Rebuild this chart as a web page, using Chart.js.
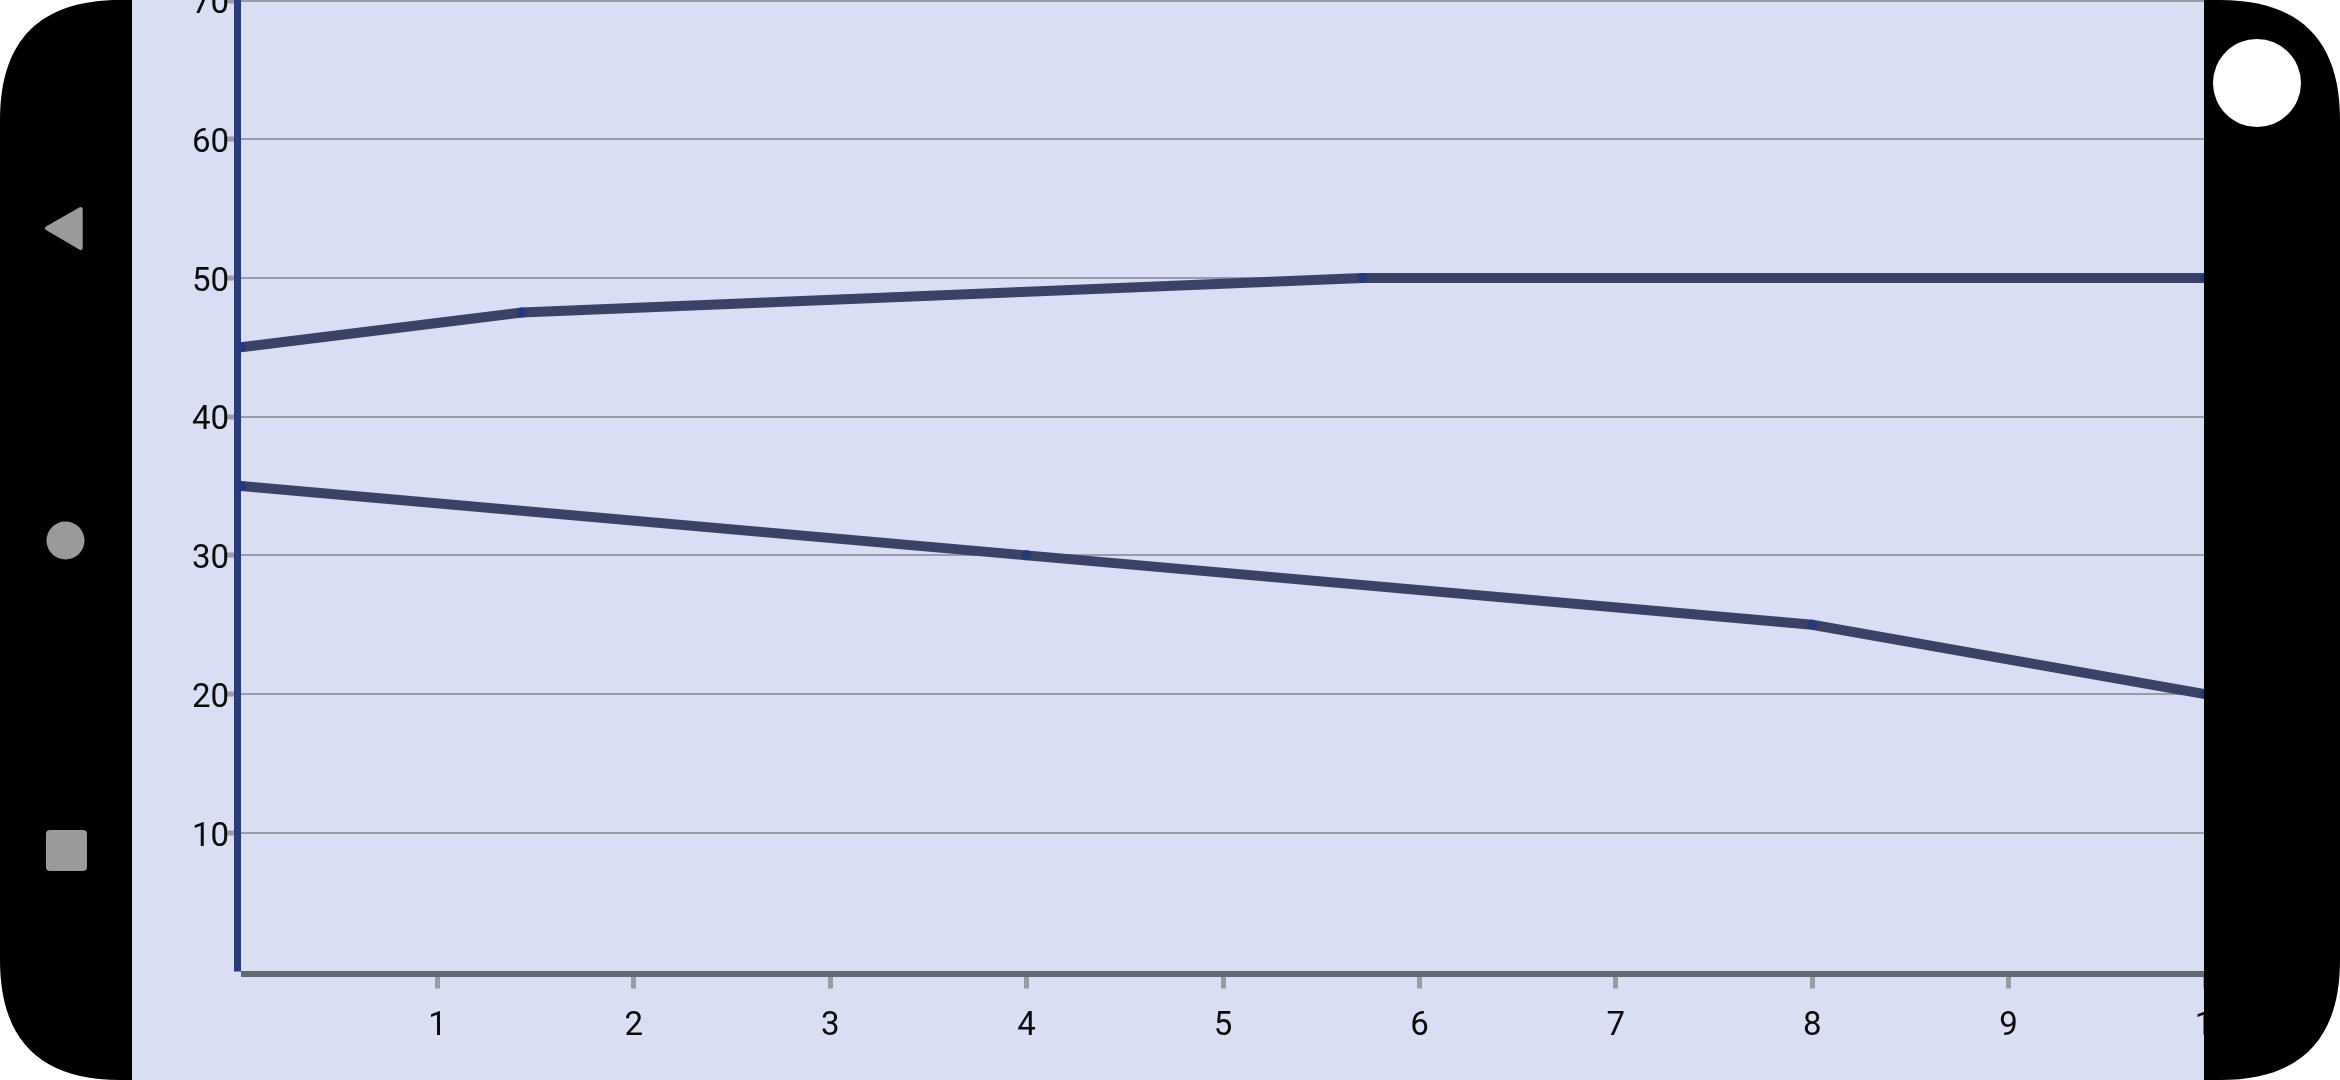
<!DOCTYPE html>
<html>
<head>
<meta charset="utf-8">
<style>
html, body { margin: 0; padding: 0; background: #fff; overflow: hidden; width: 2340px; height: 1080px; }
#screen { position: absolute; left: 132px; top: 0; width: 2072px; height: 1080px; background: #d9def4; }
#wrap { position: absolute; left: 132px; top: -60px; width: 2200px; height: 1140px; }
#bezel { position: absolute; left: 0; top: 0; }
</style>
</head>
<body>
<div id="screen"></div>
<div id="wrap"><canvas id="myChart"></canvas></div>
<svg id="bezel" width="2340" height="1080" viewBox="0 0 2340 1080">
  <path fill="#000" d="M132 0H120C40 0 0 40 0 120V960C0 1040 40 1080 120 1080H132Z"/>
  <path fill="#000" d="M2204 0H2220C2300 0 2340 40 2340 120V960C2340 1040 2300 1080 2220 1080H2204Z"/>
  <path fill="#9a9a9a" stroke="#9a9a9a" stroke-width="4" stroke-linejoin="round" d="M47 228.3L80.7 209V248Z"/>
  <circle cx="65.5" cy="540.5" r="19" fill="#9a9a9a"/>
  <rect x="46" y="830" width="41" height="41" rx="4" fill="#9a9a9a"/>
  <circle cx="2257" cy="83" r="44" fill="#fff"/>
</svg>
<script src="https://cdn.jsdelivr.net/npm/chart.js@4"></script>
<script>
// data
const upperX = [0, 1.43, 5.71, 10];
const upperY = [45, 47.5, 50, 50];
const lowerX = [0, 4, 8, 10];
const lowerY = [35, 30, 25, 20];
const xTicks = [1, 2, 3, 4, 5, 6, 7, 8, 9, 10];
const yTicks = [10, 20, 30, 40, 50, 60, 70];

const lineColor = '#3a4265';
const pointColor = '#26397c';
const gridColor = 'rgba(90,90,90,0.5)';

// axis lines sit just outside the plot area, so they are drawn by hand
const axisLines = {
    id: 'axisLines',
    beforeDatasetsDraw(chart) {
        const c = chart.ctx, a = chart.chartArea;
        c.save();
        c.fillStyle = '#283b7a';
        c.fillRect(a.left - 7, 0, 7, a.bottom);
        c.fillStyle = '#5d6a72';
        c.fillRect(a.left, a.bottom - 0.5, a.right + 100 - a.left, 6);
        c.restore();
    }
};

const ctx = document.getElementById('myChart').getContext('2d');
const myChart = new Chart(ctx, {
    type: 'line',
    data: {
        datasets: [
            { data: upperX.map((x, i) => ({ x: x, y: upperY[i] })) },
            { data: lowerX.map((x, i) => ({ x: x, y: lowerY[i] })) },
        ]
    },
    plugins: [axisLines],
    options: {
        responsive: true,
        maintainAspectRatio: false,
        animation: false,
        events: [],
        layout: { padding: { top: 60.5, right: 127, left: 0, bottom: 0 } },
        elements: {
            line: { borderColor: lineColor, borderWidth: 10, tension: 0, borderCapStyle: 'butt' },
            point: { radius: 5, backgroundColor: pointColor, borderWidth: 0 },
        },
        datasets: { line: { clip: false } },
        plugins: { legend: { display: false }, tooltip: { enabled: false } },
        scales: {
            x: {
                type: 'linear',
                min: 0,
                max: 10,
                afterBuildTicks: s => { s.ticks = xTicks.map(v => ({ value: v })); },
                afterFit: s => { s.height = 108.5; },
                border: { display: false },
                grid: {
                    drawOnChartArea: false,
                    tickLength: 17,
                    tickWidth: 5,
                    tickColor: gridColor,
                },
                ticks: {
                    color: '#0a0a0a',
                    padding: 18.5,
                    maxRotation: 0,
                    autoSkip: false,
                    font: { family: 'Roboto', size: 33 },
                    // the 10 label is cut off by the frame, its first digit sits further right
                    callback: v => (v === 10 ? '\u00a0\u00a010' : String(v)),
                },
            },
            y: {
                min: 0,
                max: 70,
                afterBuildTicks: s => { s.ticks = yTicks.map(v => ({ value: v })); },
                afterFit: s => { s.width = 109; },
                border: { display: false },
                grid: {
                    lineWidth: 2,
                    color: gridColor,
                    tickLength: 14,
                    tickWidth: 5,
                    tickColor: gridColor,
                },
                ticks: {
                    color: '#0a0a0a',
                    padding: -2,
                    labelOffset: 4.5,
                    autoSkip: false,
                    font: { family: 'Roboto', size: 33 },
                },
            },
        },
    }
});
</script>
</body>
</html>
